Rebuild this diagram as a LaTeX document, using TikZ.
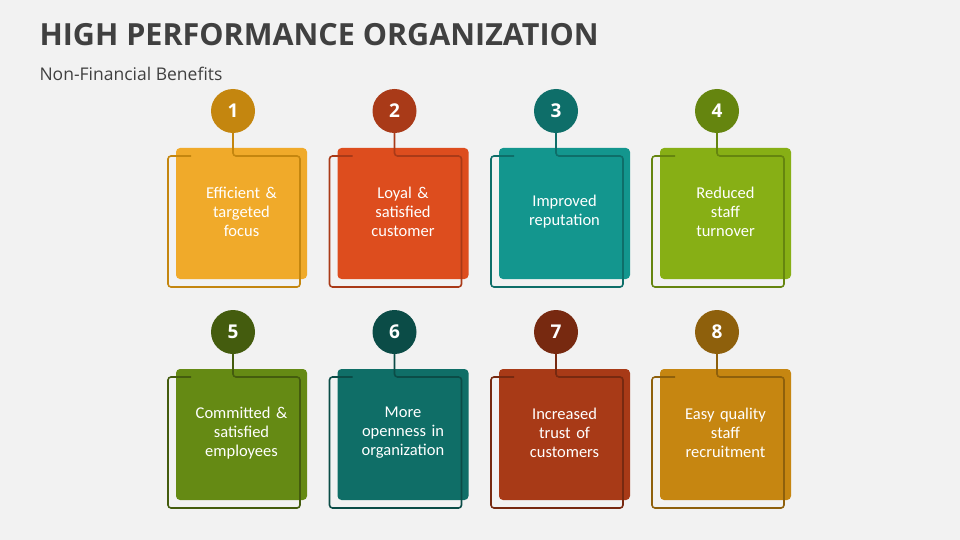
\documentclass[tikz,border=0pt]{standalone}
\usepackage{fontspec}
\setmainfont{Open Sans}
\newfontfamily\boxfont{Carlito}
\definecolor{bA}{HTML}{F0AA2A}\definecolor{cA}{HTML}{C4860F}
\definecolor{bB}{HTML}{DD4D1E}\definecolor{cB}{HTML}{A93A18}
\definecolor{bC}{HTML}{13968E}\definecolor{cC}{HTML}{0E6E69}
\definecolor{bD}{HTML}{87AF15}\definecolor{cD}{HTML}{65850F}
\definecolor{bE}{HTML}{658A14}\definecolor{cE}{HTML}{445C0E}
\definecolor{bF}{HTML}{0F6E67}\definecolor{cF}{HTML}{0B4C47}
\definecolor{bG}{HTML}{A83A17}\definecolor{cG}{HTML}{772910}
\definecolor{bH}{HTML}{C68611}\definecolor{cH}{HTML}{8E600C}
\begin{document}
\begin{tikzpicture}[x=1pt,y=-1pt,
  boxfill/.style={rounded corners=4pt,draw=none},
  outl/.style={line width=1.6pt,rounded corners=3pt},
  numc/.style={circle,minimum size=44pt,inner sep=0pt,text=white,font=\bfseries\fontsize{19}{19}\selectfont},
  btxt/.style={text=white,align=center,font=\boxfont\fontsize{16.5}{19}\selectfont,text width=120pt}]
\fill[white!95!black] (0,0) rectangle (960,540);
\useasboundingbox (0,0) rectangle (960,540);
\node[anchor=west,text=black!75,font=\bfseries\fontsize{30.5}{30}\selectfont] (title) at (36,35) {HIGH PERFORMANCE ORGANIZATION};
\node[anchor=west,text=black!75,font=\fontsize{17.5}{18}\selectfont] (sub) at (36,74) {Non-Financial Benefits};
\def\onebox#1#2#3#4#5#6{%
  \begin{scope}[shift={(#1,#2)}]
  \fill[boxfill,fill=b#3] (176,148) rectangle (307,279);
  \draw[outl,draw=c#3] (233,130) -- (233,156) -- (300,156) -- (300,287) -- (168,287) -- (168,156) -- (191,156);
  \node[numc,fill=c#3] (c#4) at (233,111) {#4};
  \node[btxt] (t#4) at (241.5,212) {#5};
  \end{scope}}
\onebox{0}{0}{A}{1}{Efficient \&\\targeted\\focus}{}
\onebox{161.5}{0}{B}{2}{Loyal \&\\satisfied\\customer}{}
\onebox{323}{0}{C}{3}{Improved\\reputation}{}
\onebox{484}{0}{D}{4}{Reduced\\staff\\turnover}{}
\onebox{0}{221}{E}{5}{Committed \&\\satisfied\\employees}{}
\onebox{161.5}{221}{F}{6}{More\\openness in\\organization}{}
\onebox{323}{221}{G}{7}{Increased\\trust of\\customers}{}
\onebox{484}{221}{H}{8}{Easy quality\\staff\\recruitment}{}
\end{tikzpicture}
\end{document}
